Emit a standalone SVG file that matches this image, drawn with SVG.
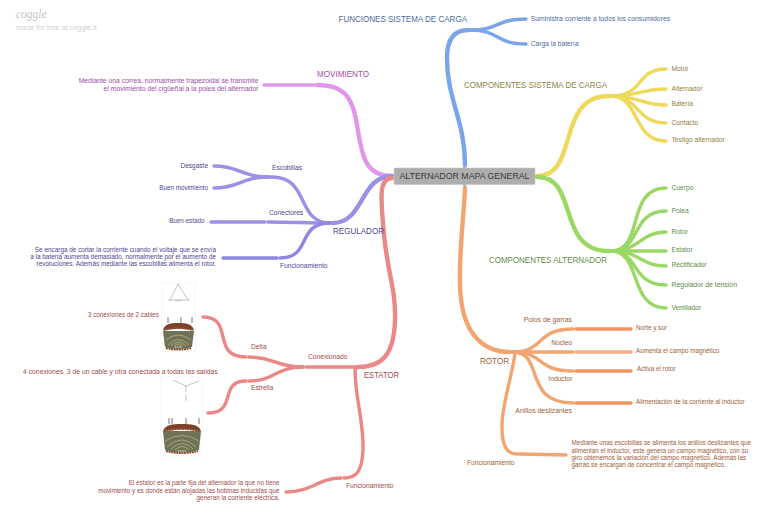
<svg xmlns="http://www.w3.org/2000/svg" width="768" height="520" viewBox="0 0 768 520">
<style>
text{font-family:"Liberation Sans",Arial,sans-serif;font-size:6.7px}
.e{text-anchor:end}
.h{font-size:8.9px}
.s{font-size:6.3px}
.c{fill:none;stroke-linecap:round;stroke-width:3.4}
.t{stroke-width:4.4}
.pu{stroke:#e296ea}.re{stroke:#9a90e6}.ro{stroke:#ea8886}.bl{stroke:#7aa5ea}.ye{stroke:#efd95a}.gr{stroke:#9ad864}.or{stroke:#f3a570}
.tpu{fill:#9c4fa6}.tre{fill:#4f4595}.tro{fill:#a04c4b}.tbl{fill:#4f6aa0}.tye{fill:#8f8440}.tgr{fill:#5f8a48}.tor{fill:#9c5d38}
.wire{fill:none;stroke:#8a8a8a;stroke-width:.5}
.post{fill:none;stroke:#777;stroke-width:1}
.frame{fill:#fff;stroke:#f0f0f0;stroke-width:.7}
.arc{fill:none;stroke:#c4b98a;stroke-width:.7}
.band{fill:none;stroke:#8c4a30;stroke-width:2;stroke-dasharray:2 .6}
.pin{fill:none;stroke:#fff;stroke-width:1.200;stroke-dasharray:1.200 1}
</style>
<g id="watermark">
<text x="16" y="18" style="font-family:'Liberation Serif',serif;font-size:11.5px;font-style:italic;fill:#c4c4c4">coggle</text>
<text x="16" y="30" style="font-size:7.300px;fill:#d2d2d2">made for free at coggle.it</text>
</g>
<g id="connectors">
<path class="c t pu" d="M392 176C366 176 362 158 357 125C352 92 340 85 317 85"/>
<path class="c pu" d="M314 85L264 85"/>
<path class="c t re" d="M392 176C360 176 364 223 333 223"/>
<path class="c re" d="M330 223C296 223 310 177 272 177"/>
<path class="c re" d="M270 177C240 177 240 166 214 166"/>
<path class="c re" d="M270 177C240 177 240 188 214 188"/>
<path class="c re" d="M330 223C308 223 290 222 268 222"/>
<path class="c re" d="M265 222L211 222"/>
<path class="c re" style="stroke:#8f85e4" d="M330 223C296 223 312 258 280 258"/>
<path class="c re" style="stroke:#8f85e4" d="M277 258L223 258"/>
<path class="c t ro" d="M392 178C378 178 381 200 384 235C388 275 396 290 395 320C394 355 382 367 358 367"/>
<path class="c ro" d="M358 367L306 367"/>
<path class="c ro" d="M303 367C275 367 275 357 249 357"/>
<path class="c ro" d="M303 367C275 367 275 381 249 381"/>
<path class="c ro" d="M246 357C210 357 235 317 203 317"/>
<path class="c ro" d="M246 381C218 381 238 413 208 413"/>
<path class="c ro" d="M355 368C355 400 364 420 363 450C362 472 356 478 344 478"/>
<path class="c ro" d="M341 478C318 478 312 492 286 492"/>
<path class="c t bl" d="M465 165C465 120 447 100 447 58C447 38 455 30 468 30"/>
<path class="c bl" d="M470 30C500 30 495 19 526 19"/>
<path class="c bl" d="M470 30C500 30 495 44 526 44"/>
<path class="c t ye" d="M537 176C580 176 555 96 609 96"/>
<path class="c ye" d="M611 96C645 96 635 69 666 69"/>
<path class="c ye" d="M611 96C640 96 640 89 666 89"/>
<path class="c ye" d="M611 96C640 96 640 105 666 105"/>
<path class="c ye" d="M611 96C640 96 635 123 666 123"/>
<path class="c ye" d="M611 96C640 96 632 141 666 141"/>
<path class="c t gr" d="M537 177C580 177 555 251 609 251"/>
<path class="c gr" d="M611 251C645 251 625 188 666 188"/>
<path class="c gr" d="M611 251C642 251 630 211 666 211"/>
<path class="c gr" d="M611 251C640 251 640 232 666 232"/>
<path class="c gr" d="M611 251L666 251"/>
<path class="c gr" d="M611 251C640 251 640 266 666 266"/>
<path class="c gr" d="M611 251C640 251 630 285 666 285"/>
<path class="c gr" d="M611 251C642 251 628 308 666 308"/>
<path class="c t or" d="M465 188C464 215 459 250 460 285C461 330 480 352 510 352"/>
<path class="c or" d="M513 352C545 352 535 329 573 329"/>
<path class="c or" d="M513 352L573 352"/>
<path class="c or" d="M513 352C545 352 535 371 573 371"/>
<path class="c or" d="M513 352C545 352 522 403 573 403"/>
<path class="c" style="stroke:#ef9560" d="M576 329L631 329"/>
<path class="c" style="stroke:#f3ae85" d="M576 352L631 352"/>
<path class="c" style="stroke:#ef9560" d="M576 371L631 371"/>
<path class="c" style="stroke:#ef9560" d="M576 403L631 403"/>
<path class="c or" d="M515 354C510 385 502 405 502 426C502 445 506 454 517 454"/>
<path class="c or" d="M519 454L566 455"/>
</g>
<g id="node-center">
<rect x="394" y="168" width="141" height="16.500" rx="1" fill="#aeaeae" stroke="#c8c8c8" stroke-width=".6"/>
<path d="M462.500 168L464.500 165L466.500 168ZM462.500 184.500L464.500 188L466.500 184.500Z" fill="#aeaeae"/>
<text x="399.500" y="178.500" textLength="130" lengthAdjust="spacingAndGlyphs" style="font-size:9.800px;fill:#3c3c3c">ALTERNADOR MAPA GENERAL</text>
</g>
<g id="node-funciones">
<text class="h tbl" x="338.500" y="22" textLength="128.500" lengthAdjust="spacingAndGlyphs">FUNCIONES SISTEMA DE CARGA</text>
<text class="tbl" x="530.700" y="21" style="font-size:6.800px">Suministra corriente a todos los consumidores</text>
<text class="tbl" x="530.700" y="46">Carga la batería</text>
</g>
<g id="node-componentes-carga">
<text class="h tye" x="464" y="88" textLength="143" lengthAdjust="spacingAndGlyphs">COMPONENTES SISTEMA DE CARGA</text>
<text class="tye" x="671.500" y="71.300">Motor</text>
<text class="tye" x="671.500" y="91.300">Alternador</text>
<text class="tye" x="671.500" y="106.300">Batería</text>
<text class="tye" x="671.500" y="125.300">Contacto</text>
<text class="tye" x="671.500" y="142.300">Testigo alternador</text>
</g>
<g id="node-componentes-alternador">
<text class="h tgr" x="489" y="263" textLength="118" lengthAdjust="spacingAndGlyphs">COMPONENTES ALTERNADOR</text>
<text class="tgr" x="671.500" y="190.300">Cuerpo</text>
<text class="tgr" x="671.500" y="213.300">Polea</text>
<text class="tgr" x="671.500" y="234.300">Rotor</text>
<text class="tgr" x="671.500" y="252.300">Estator</text>
<text class="tgr" x="671.500" y="267.300">Rectificador</text>
<text class="tgr" x="671.500" y="287.300" style="font-size:6.900px">Regulador de tensión</text>
<text class="tgr" x="671.500" y="310.300">Ventilador</text>
</g>
<g id="node-rotor">
<text class="h tor" x="480" y="364" textLength="29" lengthAdjust="spacingAndGlyphs">ROTOR</text>
<text class="tor e" x="572" y="322.300" style="font-size:6.900px">Polos de garras</text>
<text class="tor e" x="572" y="345.300">Núcleo</text>
<text class="tor e" x="572.500" y="381.300">Inductor</text>
<text class="tor e" x="572" y="413.300" style="font-size:6.900px">Anillos deslizantes</text>
<text class="tor" x="467" y="464.800">Funcionamiento</text>
<text class="tor s" x="636" y="330.300">Norte y sur</text>
<text class="tor s" x="636" y="353.300">Aumenta el campo magnético</text>
<text class="tor s" x="637" y="371.300">Activa el rotor</text>
<text class="tor s" x="636" y="404.300">Alimentación de la corriente al inductor</text>
<text class="tor s" x="571.500" y="444.500">Mediante unas escobillas se alimenta los anillos deslizantes que</text>
<text class="tor s" x="571.500" y="452.500">alimentan el inductor, este genera un campo magnético, con su</text>
<text class="tor s" x="571.500" y="460">giro obtenemos la variación del campo magnético. Además las</text>
<text class="tor s" x="571.500" y="467">garras se encargan de concentrar el campo magnético.</text>
</g>
<g id="node-estator">
<text class="h tro" x="364" y="378" textLength="35" lengthAdjust="spacingAndGlyphs">ESTATOR</text>
<text class="tro" x="308" y="359.300">Conexionado</text>
<text class="tro" x="251" y="349.300">Delta</text>
<text class="tro" x="251" y="390.300">Estrella</text>
<text class="tro" x="346" y="488.300">Funcionamiento</text>
<text class="tro e" x="159" y="317.300" style="font-size:6.300px">3 conexiones de 2 cables</text>
<text class="tro" x="23" y="374.300" style="font-size:6.800px">4 conexiones, 3 de un cable y otra conectada a todas las salidas</text>
<text class="tro e s" x="279.500" y="485.300">El estator es la parte fija del alternador la que no tiene</text>
<text class="tro e s" x="279.500" y="493.300">movimiento y es donde están alojadas las bobinas inducidas que</text>
<text class="tro e s" x="279.500" y="500.300">generan la corriente eléctrica.</text>
</g>
<g id="node-movimiento">
<text class="h tpu" x="317" y="77" textLength="52" lengthAdjust="spacingAndGlyphs">MOVIMIENTO</text>
<text class="tpu e" x="258.500" y="83" style="font-size:6.800px">Mediante una correa, normalmente trapezoidal se transmite</text>
<text class="tpu e" x="258.500" y="91.300" style="font-size:6.800px">el movimiento del cigüeñal a la polea del alternador</text>
</g>
<g id="node-regulador">
<text class="h tre" x="333" y="234" textLength="51" lengthAdjust="spacingAndGlyphs">REGULADOR</text>
<text class="tre e" x="208" y="168.300" style="font-size:6.500px">Desgaste</text>
<text class="tre e s" x="208" y="190.300">Buen movimiento</text>
<text class="tre" x="272" y="170.300">Escobillas</text>
<text class="tre" x="269" y="215.300">Conectores</text>
<text class="tre e s" x="204.500" y="223.300">Buen estado</text>
<text class="tre" x="280" y="268.300">Funcionamiento</text>
<text class="tre e" x="216" y="252.300" style="font-size:6.400px">Se encarga de cortar la corriente cuando el voltaje que se envía</text>
<text class="tre e" x="216" y="259.300" style="font-size:6.400px">a la batería aumenta demasiado, normalmente por el aumento de</text>
<text class="tre e" x="216" y="266.300" style="font-size:6.400px">revoluciones. Además mediante las escobillas alimenta el rotor.</text>
</g>
<g id="stator-delta">
<rect class="frame" x="162" y="283" width="33.500" height="68"/>
<path class="wire" d="M178 284L170 300H188L178 284M170 300L168 300M188 300L190 300M175 300L179 301L182 300"/>
<path class="post" d="M168 317V323M181 317V323M192 317V323"/>
<path d="M163 331H194L192 347Q178 351 165 347Z" fill="#6f7258"/>
<path class="arc" d="M166 340Q178 330 191 340M168 345Q178 334 189 345M171 346Q178 338 186 346M174 346Q178 342 183 346"/>
<path d="M163 330Q165 322 178 323Q192 322 194 330Q178 327 163 330Z" fill="#7d4128"/>
<path class="band" d="M164 330Q178 326 193 330"/>
<path class="band" d="M166 348Q178 351 191 348"/>
<path class="pin" d="M175 347H182"/>
</g>
<g id="stator-estrella">
<rect class="frame" x="161" y="377" width="41" height="79"/>
<path class="wire" d="M173 380L186 386L199 381M186 386V392M186 394V401"/>
<path class="post" d="M169 418V424M172 418V424M186 418V424M199 418V424"/>
<path d="M163 431H201L199 450Q182 455 165 450Z" fill="#6f7258"/>
<path class="arc" d="M165 441Q182 430 199 441M167 447Q182 433 196 447M171 449Q182 438 193 449M175 450Q182 443 189 450"/>
<path d="M163 431Q165 423 182 424Q199 423 201 431Q182 427 163 431Z" fill="#7d4128"/>
<path class="band" d="M164 431Q182 427 200 431"/>
<path class="band" d="M166 451Q182 455 198 451"/>
<path class="pin" d="M178 451H186"/>
</g>
</svg>
